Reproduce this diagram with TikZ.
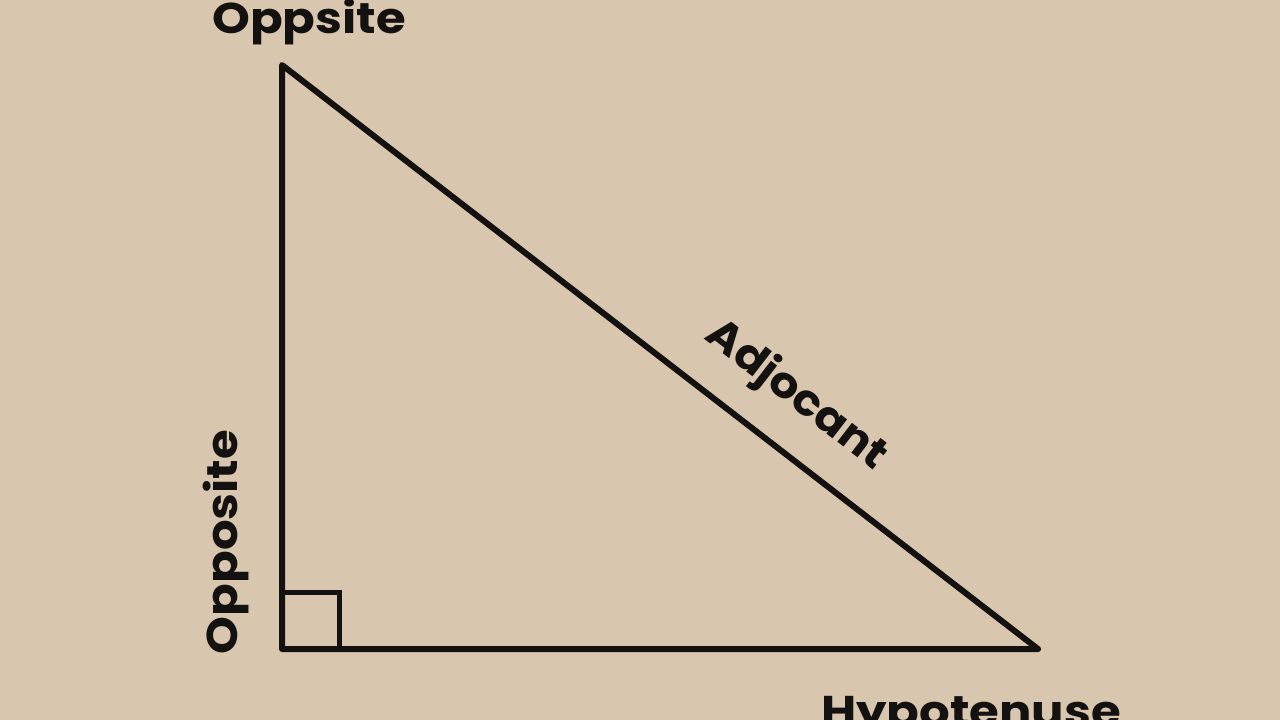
\documentclass[tikz,border=0pt]{standalone}
\usepackage{fontspec}
\setmainfont{Poppins}
\definecolor{paper}{HTML}{D8C7AE}
\definecolor{ink}{HTML}{141210}
\begin{document}
\begin{tikzpicture}[x=1pt,y=-1pt,
  edge/.style={draw=ink,line width=6pt,line join=round,line cap=round},
  lbl/.style={text=ink,font=\fontsize{43}{43}\selectfont\bfseries,inner sep=0pt}]
\fill[paper] (0,0) rectangle (1280,720);
\useasboundingbox (0,0) rectangle (1280,720);
\coordinate (A) at (282,65);
\coordinate (B) at (282,649);
\coordinate (C) at (1038,649);
\draw[edge] (A) -- (B) -- (C) -- cycle;
\draw[draw=ink,line width=5pt] (282,592) -| (339,649);
\node[lbl,anchor=base,xscale=1.12] (top) at (309,33) {Oppsite};
\node[lbl,anchor=base,rotate=90,xscale=1.12] (left) at (237,542) {Opposite};
\node[lbl,rotate=-37.7,xscale=1.07] (hyp) at (796,396) {Adjocant};
\node[lbl,anchor=base,xscale=1.12] (bot) at (971,726) {Hypotenuse};
\end{tikzpicture}
\end{document}
